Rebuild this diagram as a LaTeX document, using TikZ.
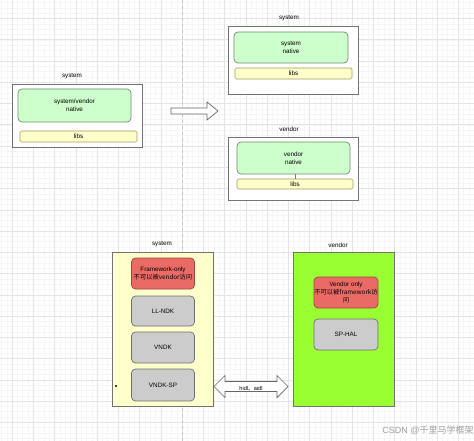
\documentclass[tikz,border=0pt]{standalone}
\usepackage{fontspec}
\setmainfont{Liberation Sans}
\newfontfamily\cjk{Noto Sans CJK SC}
\definecolor{nativefill}{HTML}{CCFFCC}
\definecolor{nativeline}{HTML}{6E8B6E}
\definecolor{libsfill}{HTML}{FFFFCC}
\definecolor{libsline}{HTML}{A89B5A}
\definecolor{onlyfill}{HTML}{EA6B66}
\definecolor{onlyline}{HTML}{9E4440}
\definecolor{ndkfill}{HTML}{CCCCCC}
\definecolor{ndkline}{HTML}{707070}
\definecolor{vendorfill}{HTML}{99FF33}
\definecolor{gridminor}{HTML}{F6F6F6}
\definecolor{gridmajor}{HTML}{E4E4E4}

\begin{document}
\begin{tikzpicture}[x=1pt,y=-1pt,
  every node/.style={font=\fontsize{6.3}{7.8}\selectfont, inner sep=0pt, align=center},
  sysbox/.style={draw=gray!90!black, fill=white, line width=0.8pt},
  nativebox/.style={draw=nativeline, fill=nativefill, rounded corners=4pt, line width=0.7pt},
  libsbox/.style={draw=libsline, fill=libsfill, rounded corners=1.5pt, line width=0.7pt},
  onlybox/.style={draw=onlyline, fill=onlyfill, rounded corners=4pt, line width=0.7pt},
  ndkbox/.style={draw=ndkline, fill=ndkfill, rounded corners=4pt, line width=0.7pt},
  blockarrow/.style={draw=gray!80!black, fill=white, line width=0.7pt}]
  \useasboundingbox (0,0) rectangle (474,441);
  \fill[white] (0,0) rectangle (474,441);
  % grid
  \foreach \i in {0,...,89} \draw[gridminor, line width=0.35pt] ({1.375+\i*5.3125},0) -- ({1.375+\i*5.3125},441);
  \foreach \i in {0,...,83} \draw[gridminor, line width=0.35pt] (0,{2.5625+\i*5.3125}) -- (474,{2.5625+\i*5.3125});
  \foreach \i in {0,...,21} \draw[gridmajor, line width=0.5pt] ({12+\i*21.25},0) -- ({12+\i*21.25},441);
  \foreach \i in {0,...,19} \draw[gridmajor, line width=0.5pt] (0,{18.5+\i*21.25}) -- (474,{18.5+\i*21.25});
  \draw[gray!45, dashed, line width=0.6pt] (182,0) -- (182,441);

  % system/vendor before
  \node (oldlbl) at (72,76) {system};
  \node[sysbox, minimum width=130, minimum height=63] (old) at (77,115.5) {};
  \node[nativebox, minimum width=113, minimum height=33] (oldnative) at (74.5,105.5) {system/vendor\\native};
  \node[libsbox, minimum width=117, minimum height=11] (oldlibs) at (78.5,136.5) {libs};

  \draw[blockarrow] (171,108) -- (207,108) -- (207,102) -- (218,111) -- (207,120) -- (207,114) -- (171,114) -- cycle;

  % system after
  \node (syslbl) at (289,18) {system};
  \node[sysbox, minimum width=130, minimum height=68] (sys) at (293,60) {};
  \node[nativebox, minimum width=114, minimum height=31] (sysnative) at (291,47.5) {system\\native};
  \node[libsbox, minimum width=117, minimum height=11] (syslibs) at (293.5,73.5) {libs};

  % vendor after
  \node (venlbl) at (289,129) {vendor};
  \node[sysbox, minimum width=130, minimum height=63] (ven) at (293,168.5) {};
  \node[nativebox, minimum width=113, minimum height=32] (vennative) at (293.5,158) {vendor\\native};
  \node[libsbox, minimum width=116, minimum height=10] (venlibs) at (295,184) {libs};
  \draw[nativeline, line width=0.7pt] (venlibs.north) -- (venlibs.north |- vennative.south);

  % bottom system
  \node (fwlbl) at (162,244) {system};
  \node[draw=gray!90!black, fill=libsfill, line width=0.8pt, minimum width=101, minimum height=154] (fw) at (162.5,329) {};
  \node[onlybox, minimum width=63, minimum height=31] (fwonly) at (163,273.5) {Framework-only\\{\cjk 不可以被vendor访问}};
  \node[ndkbox, minimum width=63, minimum height=30] (llndk) at (163,311) {LL-NDK};
  \node[ndkbox, minimum width=63, minimum height=31] (vndk) at (163,347.5) {VNDK};
  \node[ndkbox, minimum width=63, minimum height=32] (vndksp) at (163,385) {VNDK-SP};
  \fill[black] (116,386) circle (1.1);

  % bottom vendor
  \node (vdlbl) at (338,245) {vendor};
  \node[draw=gray!90!black, fill=vendorfill, line width=0.8pt, minimum width=101, minimum height=154] (vd) at (343.5,329) {};
  \node[onlybox, minimum width=64, minimum height=31] (vdonly) at (346,292.5) {Vendor only\\{\cjk 不可以被framework访}\\{\cjk 问}};
  \node[ndkbox, minimum width=64, minimum height=31] (sphal) at (346,334.5) {SP-HAL};

  \draw[blockarrow] (214,386.5) -- (225,375.5) -- (225,381.5) -- (277,381.5) -- (277,375.5) -- (288,386.5)
    -- (277,397.5) -- (277,391.5) -- (225,391.5) -- (225,397.5) -- cycle;
  \node[font=\fontsize{5.6}{6}\selectfont] (hidl) at (251,389) {hidl{\cjk 、}aidl};

  \node[text=gray!75, font=\fontsize{9}{9}\selectfont] (mark) at (428,430) {CSDN @{\cjk 千里马学框架}};
\end{tikzpicture}
\end{document}
